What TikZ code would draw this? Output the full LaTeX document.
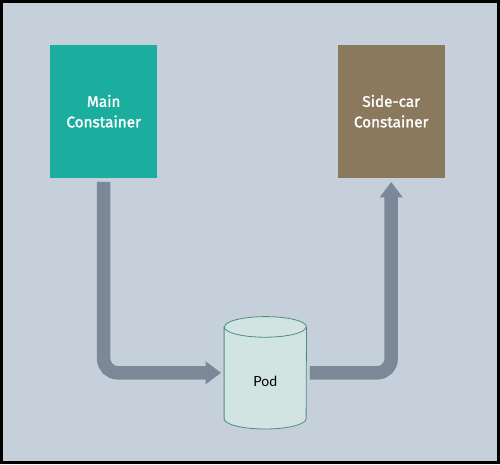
\documentclass[tikz,border=0pt]{standalone}
\usepackage{fontspec}
\setmainfont{Fira Sans}
\newfontfamily\boxfont{Fira Sans}[FakeBold=1.6]
\newfontfamily\podfont{Lato}
\usetikzlibrary{arrows.meta}
\definecolor{bgc}{HTML}{C5D0DA}
\definecolor{teal}{HTML}{1BAE9E}
\definecolor{brownbox}{HTML}{8A795D}
\definecolor{flowc}{HTML}{7B8898}
\definecolor{podfill}{HTML}{D2E4E2}
\definecolor{podline}{HTML}{4E8C82}
\begin{document}
\begin{tikzpicture}[x=1pt,y=-1pt,
  container/.style={rectangle, minimum width=107pt, minimum height=133pt, inner sep=0pt,
    text=white, align=center, font=\boxfont\fontsize{15.3}{20.5}\selectfont},
  flow/.style={draw=flowc, line width=13.5pt, rounded corners=14pt,
    -{Triangle[length=15.5pt,width=22pt]}},
  podbox/.style={rectangle, minimum width=82pt, minimum height=112pt, inner sep=0pt},
  podshape/.style={draw=podline, fill=podfill, line width=0.8pt},
  podedge/.style={draw=podline, line width=0.8pt},
  podtext/.style={font=\podfont\fontsize{14}{16}\selectfont, inner sep=0pt}]
\fill[black] (0,0) rectangle (500,464);
\fill[bgc] (3.3,3.3) rectangle (496.7,460.7);
\useasboundingbox (0,0) rectangle (500,464);
\node[container, fill=teal] (main) at (103.7,111.2) {Main\\Constainer};
\node[container, fill=brownbox] (side) at (391.2,111.2) {Side-car\\Constainer};
\node[podbox] (pod) at (265.3,372.8) {};
\path[podshape] ([yshift=-10.3pt]pod.north west) -- ([yshift=10.3pt]pod.south west)
  arc[start angle=180, end angle=360, x radius=41pt, y radius=10.3pt]
  -- ([yshift=-10.3pt]pod.north east)
  arc[start angle=0, end angle=180, x radius=41pt, y radius=10.3pt] -- cycle;
\draw[podedge] ([yshift=-10.3pt]pod.north west)
  arc[start angle=180, end angle=360, x radius=41pt, y radius=10.3pt];
\node[podtext] (podlabel) at ([yshift=-8.7pt]pod.center) {Pod};
\draw[flow] ([yshift=-4pt]main.south) |- ([xshift=-3pt]pod.west);
\draw[flow] ([xshift=3.3pt]pod.east) -| ([yshift=-4pt]side.south);
\end{tikzpicture}
\end{document}
